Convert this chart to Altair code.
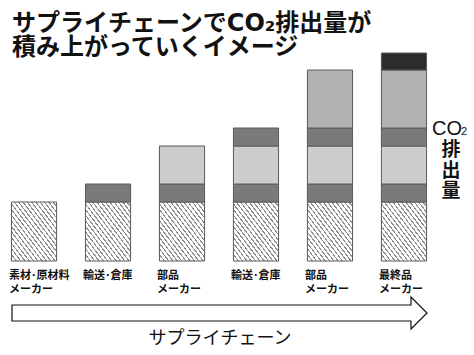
import altair as alt
import pandas as pd

# ---- data ----
stage_ids = [0, 1, 2, 3, 4, 5]
stage_labels = ["素材･原材料\nメーカー", "輸送･倉庫", "部品\nメーカー",
                "輸送･倉庫", "部品\nメーカー", "最終品\nメーカー"]
segment_names = ["素材・原材料", "輸送・倉庫1", "部品", "輸送・倉庫2", "組立", "最終品"]
segment_values = [59, 18, 38, 18, 58, 17]
segment_colors = ["#ffffff", "#7a7a7a", "#cdcdcd", "#7a7a7a", "#b2b2b2", "#2c2c2c"]

title_text = "サプライチェーンでCO₂排出量が\n積み上がっていくイメージ"
side_co = "CO"
side_sub = "2"
side_label = "排\n出\n量"
arrow_label = "サプライチェーン"

# ---- build the stacked table ----
rows = []
for i in stage_ids:
    base = 0
    for j in range(i + 1):
        rows.append({"stage": i, "seg": segment_names[j], "segidx": j,
                     "y0": base, "y1": base + segment_values[j]})
        base += segment_values[j]
df = pd.DataFrame(rows)
lab_df = pd.DataFrame({"stage": stage_ids, "label": stage_labels})

JP = "Noto Sans CJK JP"
W, H = 438, 261

xenc = alt.X("stage:O", scale=alt.Scale(paddingInner=0.39, paddingOuter=0.155), axis=None)
yscale = alt.Scale(domain=[0, 261])

# hatch gradient (diagonal stripes)
n = 21
stops = []
for k in range(n):
    a = k / n
    b = (k + 0.32) / n
    c = (k + 1) / n
    stops += [alt.GradientStop(offset=a, color="#8e8e8e"),
              alt.GradientStop(offset=b, color="#8e8e8e"),
              alt.GradientStop(offset=b, color="#ffffff"),
              alt.GradientStop(offset=c, color="#ffffff")]
hatch = alt.LinearGradient(gradient="linear", stops=stops, x1=0, y1=1, x2=1, y2=0)

bars = alt.Chart(df).transform_filter("datum.segidx > 0").mark_bar(
    stroke="#5a5a5a", strokeWidth=1
).encode(
    x=xenc,
    y=alt.Y("y0:Q", scale=yscale, axis=None),
    y2="y1:Q",
    color=alt.Color("seg:N", scale=alt.Scale(domain=segment_names, range=segment_colors), legend=None),
)

hatched = alt.Chart(df).transform_filter("datum.segidx == 0").mark_bar(
    fill=hatch, stroke="#5a5a5a", strokeWidth=1
).encode(
    x=xenc,
    y=alt.Y("y0:Q", scale=yscale, axis=None),
    y2="y1:Q",
)

labels = alt.Chart(lab_df).mark_text(
    align="left", baseline="alphabetic", dx=-25, lineBreak="\n", lineHeight=14,
    fontSize=11, fontWeight="bold", font=JP, color="#111"
).encode(x=xenc, y=alt.value(279), text="label:N")


def txt(s, x, y, size, weight="normal", font=JP, align="left", lh=None):
    kw = dict(align=align, baseline="alphabetic", fontSize=size, fontWeight=weight,
              font=font, color="#111")
    if lh is not None:
        kw.update(lineBreak="\n", lineHeight=lh)
    return alt.Chart(pd.DataFrame({"t": [s]})).mark_text(**kw).encode(
        x=alt.value(x), y=alt.value(y), text="t:N")


title = txt(title_text, 12, 31, 24, "bold", "DejaVu Sans, Noto Sans CJK JP", "left", 24)

side1 = txt(side_co, 432, 135, 20, "normal", "Liberation Sans")
side1s = txt(side_sub, 461, 135, 11, "normal", "Liberation Sans")
side2 = txt(side_label, 451, 156, 19, "bold", JP, "center", 20.5)

arrow_path = "M-208,-8L191,-8L191,-16L207,0L191,16L191,8L-208,8Z"
arrow = alt.Chart(pd.DataFrame({"a": [1]})).mark_point(
    shape=arrow_path, size=4, filled=True, fill="white", stroke="#111",
    strokeWidth=1.2, opacity=1, fillOpacity=1, strokeOpacity=1
).encode(x=alt.value(220), y=alt.value(313))

arrow_txt = txt(arrow_label, 220, 344, 18, "normal", JP, "center")

chart = alt.layer(
    hatched, bars, labels, title, side1, side1s, side2, arrow, arrow_txt
).properties(
    width=W, height=H,
    autosize=alt.AutoSizeParams(type="none"),
    padding={"left": 0, "top": 0, "right": 36, "bottom": 94},
    background="white",
).configure_view(stroke="transparent")

chart.save("out.html", embed_options={"renderer": "svg", "actions": False})
